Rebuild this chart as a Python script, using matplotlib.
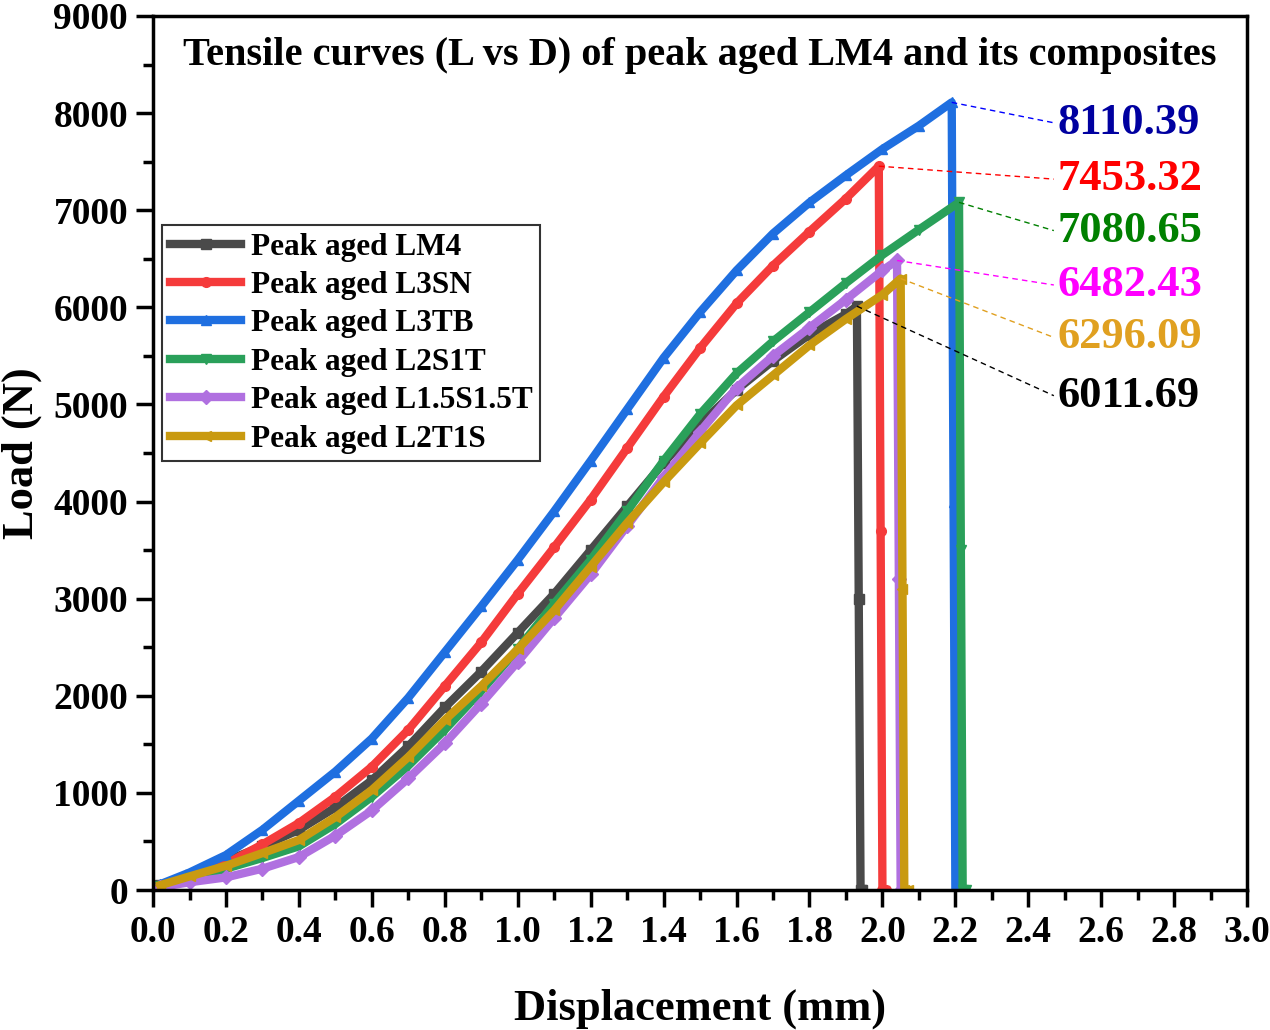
import numpy as np
import matplotlib
matplotlib.use("Agg")
import matplotlib.pyplot as plt

plt.rcParams['font.family'] = ['Liberation Serif', 'DejaVu Serif']
plt.rcParams['font.weight'] = 'bold'

# series: displacement (mm) and load (N)
names = ["Peak aged LM4", "Peak aged L3SN", "Peak aged L3TB",
         "Peak aged L2S1T", "Peak aged L1.5S1.5T", "Peak aged L2T1S"]

x_lm4 = [0.02, 0.1, 0.2, 0.3, 0.4, 0.5, 0.6, 0.7, 0.8, 0.9, 1.0, 1.1, 1.2, 1.3, 1.4,
         1.5, 1.6, 1.7, 1.8, 1.9, 1.93, 1.935, 1.94, 1.945]
y_lm4 = [50, 150, 300, 450, 620, 850, 1130, 1480, 1880, 2250, 2650, 3050, 3500, 3950, 4400,
         4800, 5150, 5450, 5720, 5930, 6011.69, 3000, 0, 0]

x_l3sn = [0.02, 0.1, 0.2, 0.3, 0.4, 0.5, 0.6, 0.7, 0.8, 0.9, 1.0, 1.1, 1.2, 1.3, 1.4,
          1.5, 1.6, 1.7, 1.8, 1.9, 1.99, 1.995, 2.0, 2.01]
y_l3sn = [50, 150, 270, 470, 690, 960, 1270, 1650, 2100, 2550, 3050, 3530, 4020, 4550, 5080,
          5580, 6040, 6430, 6780, 7120, 7453.32, 3700, 0, 0]

x_l3tb = [0.02, 0.1, 0.2, 0.3, 0.4, 0.5, 0.6, 0.7, 0.8, 0.9, 1.0, 1.1, 1.2, 1.3, 1.4,
          1.5, 1.6, 1.7, 1.8, 1.9, 2.0, 2.1, 2.19, 2.195, 2.2, 2.21]
y_l3tb = [60, 180, 360, 620, 920, 1220, 1560, 1980, 2450, 2920, 3400, 3900, 4420, 4950, 5480,
          5950, 6380, 6760, 7080, 7360, 7630, 7870, 8110.39, 4000, 0, 0]

x_l2s1t = [0.02, 0.1, 0.2, 0.3, 0.4, 0.5, 0.6, 0.7, 0.8, 0.9, 1.0, 1.1, 1.2, 1.3, 1.4,
           1.5, 1.6, 1.7, 1.8, 1.9, 2.0, 2.1, 2.21, 2.215, 2.22, 2.23]
y_l2s1t = [40, 120, 220, 330, 450, 680, 960, 1280, 1650, 2050, 2480, 2950, 3400, 3900, 4420,
           4900, 5320, 5650, 5950, 6250, 6540, 6800, 7080.65, 3500, 0, 0]

x_l15 = [0.02, 0.1, 0.2, 0.3, 0.4, 0.5, 0.6, 0.7, 0.8, 0.9, 1.0, 1.1, 1.2, 1.3, 1.4,
         1.5, 1.6, 1.7, 1.8, 1.9, 2.0, 2.04, 2.045, 2.05, 2.055]
y_l15 = [30, 80, 130, 220, 340, 560, 820, 1150, 1510, 1920, 2350, 2800, 3250, 3750, 4250,
         4720, 5170, 5500, 5790, 6080, 6380, 6482.43, 3200, 0, 0]

x_l2t1s = [0.02, 0.1, 0.2, 0.3, 0.4, 0.5, 0.6, 0.7, 0.8, 0.9, 1.0, 1.1, 1.2, 1.3, 1.4,
           1.5, 1.6, 1.7, 1.8, 1.9, 2.0, 2.05, 2.055, 2.06, 2.07]
y_l2t1s = [50, 140, 250, 380, 515, 750, 1030, 1370, 1750, 2100, 2480, 2880, 3330, 3780, 4200,
           4600, 4990, 5300, 5610, 5880, 6130, 6296.09, 3100, 0, 0]

xs = [x_lm4, x_l3sn, x_l3tb, x_l2s1t, x_l15, x_l2t1s]
ys = [y_lm4, y_l3sn, y_l3tb, y_l2s1t, y_l15, y_l2t1s]
colors = ["#4a4a4a", "#f53b3b", "#1f6fe0", "#2aa05a", "#b070e0", "#c99a10"]
markers = ["s", "o", "^", "v", "D", "<"]

# peak labels
peak_text = ["6011.69", "7453.32", "8110.39", "7080.65", "6482.43", "6296.09"]
text_y = [5090, 7320, 7900, 6790, 6230, 5690]
text_colors = ["black", "#ff0000", "#0000a0", "#008000", "#ff00ff", "#e0a020"]
line_colors = ["black", "#ff0000", "#0000ff", "#008000", "#ff00ff", "#e0a020"]

fig = plt.figure(figsize=(12.7, 10.3), dpi=100)
ax = fig.add_axes([0.1205, 0.1359, 0.8615, 0.8486])

for i in range(len(names)):
    ax.plot(xs[i], ys[i], color=colors[i], lw=6, marker=markers[i], ms=7,
            label=names[i], solid_joinstyle='round')

for i in range(len(names)):
    px = xs[i][np.argmax(ys[i])]
    py = max(ys[i])
    ax.plot([px, 2.47], [py, text_y[i]], ls=(0, (4, 3)), lw=1, color=line_colors[i])
    ax.text(2.48, text_y[i], peak_text[i], color=text_colors[i], fontsize=32,
            fontweight='bold', va='center', ha='left')

ax.text(0.5, 0.955, "Tensile curves (L vs D) of peak aged LM4 and its composites",
        transform=ax.transAxes, ha='center', va='center', fontsize=29, fontweight='bold')

ax.set_xlim(0, 3.0)
ax.set_ylim(0, 9000)
ax.set_xticks(np.arange(0, 3.01, 0.2))
ax.set_xticks(np.arange(0.1, 3.0, 0.2), minor=True)
ax.set_yticks(np.arange(0, 9001, 1000))
ax.set_yticks(np.arange(500, 9000, 1000), minor=True)
ax.set_xticklabels(["%.1f" % v for v in np.arange(0, 3.01, 0.2)])
ax.tick_params(which='major', direction='out', length=12, width=2.5, labelsize=27, pad=6)
ax.tick_params(which='minor', direction='out', length=7, width=2.5)
for lab in ax.get_xticklabels() + ax.get_yticklabels():
    lab.set_fontweight('bold')
for s in ax.spines.values():
    s.set_linewidth(2.5)

ax.set_xlabel("Displacement (mm)", fontsize=32, fontweight='bold', labelpad=28)
ax.set_ylabel("Load (N)", fontsize=32, fontweight='bold', labelpad=8)

leg = ax.legend(loc='upper left', bbox_to_anchor=(0.008, 0.761), borderaxespad=0,
                fontsize=22.5, frameon=True, fancybox=False, edgecolor='black',
                handlelength=2.3, labelspacing=0.3, borderpad=0.25, handletextpad=0.3)
leg.get_frame().set_linewidth(1.5)
for t in leg.get_texts():
    t.set_fontweight('bold')

fig.savefig("out.png", dpi=100)
